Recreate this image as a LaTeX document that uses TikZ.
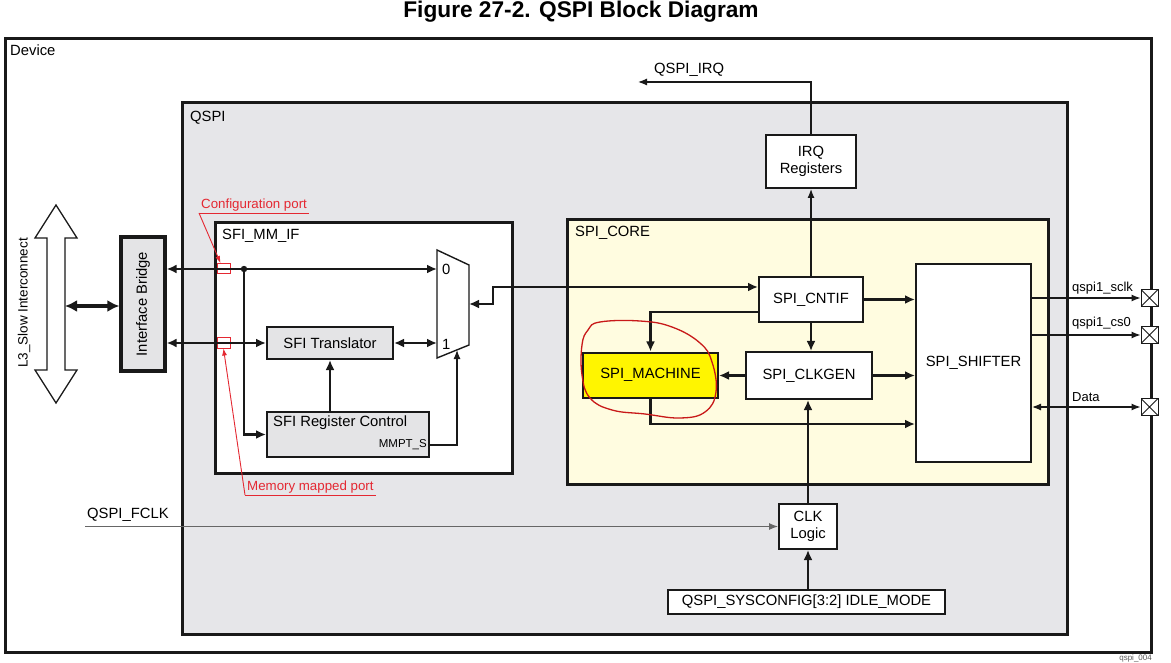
\documentclass[tikz,border=0pt]{standalone}
\usepackage{fontspec}
\setmainfont{Liberation Sans}
\usetikzlibrary{arrows.meta,calc}
\definecolor{ink}{RGB}{25,25,25}
\definecolor{qgray}{RGB}{230,230,233}
\definecolor{boxgray}{RGB}{228,228,230}
\definecolor{coreyellow}{RGB}{255,252,224}
\definecolor{hlyellow}{RGB}{255,245,0}
\definecolor{annred}{RGB}{228,40,50}
\definecolor{loopred}{RGB}{200,25,25}
\begin{document}
\begin{tikzpicture}[x=1pt,y=-1pt,
  font=\fontsize{14.8}{17}\selectfont,
  container/.style={draw=ink, line width=3pt, inner sep=0pt},
  blk/.style={draw=ink, line width=2pt, fill=white, align=center, inner sep=0pt},
  gblk/.style={blk, fill=boxgray},
  lbl/.style={anchor=west, inner sep=0pt},
  conn/.style={draw=ink, line width=2.1pt, -{Latex[length=10pt,width=9pt]}},
  conn2/.style={draw=ink, line width=2.1pt, {Latex[length=10pt,width=9pt]}-{Latex[length=10pt,width=9pt]}},
  thinconn/.style={draw=ink, line width=1.2pt, -{Latex[length=9pt,width=7pt]}},
  thinconn2/.style={draw=ink, line width=1.2pt, {Latex[length=9pt,width=7pt]}-{Latex[length=9pt,width=7pt]}},
  pinbox/.style={draw=ink, line width=1pt, fill=white, minimum size=17pt, inner sep=0pt,
    path picture={\draw[ink, line width=0.8pt] (path picture bounding box.north west) -- (path picture bounding box.south east)
      (path picture bounding box.north east) -- (path picture bounding box.south west);}},
  portbox/.style={draw=annred, line width=1pt, minimum width=13pt, minimum height=10pt, inner sep=0pt},
  anntext/.style={text=annred, font=\fontsize{13.3}{15}\selectfont, inner xsep=2pt, inner ysep=2pt, anchor=south west},
  ann/.style={draw=annred, line width=0.9pt},
  annarrow/.style={ann, -{Latex[length=7pt,width=5pt]}}
]
\useasboundingbox (0,0) rectangle (1171,663);

% title
\node[font=\bfseries\fontsize{22.7}{25}\selectfont] (title) at (581,12) {Figure 27-2. QSPI Block Diagram};

% containers
\node[container, fill=white, minimum width=1146pt, minimum height=613pt] (device) at (578,345.5) {};
\node[lbl] (devlbl) at (10,50) {Device};
\node[container, fill=qgray, minimum width=885pt, minimum height=531pt] (qspi) at (624.5,368.5) {};
\node[lbl] (qspilbl) at (190,118) {QSPI};
\node[container, fill=coreyellow, minimum width=481pt, minimum height=264pt] (core) at (807.5,352) {};
\node[lbl] (corelbl) at (575,233) {SPI\_CORE};
\node[container, fill=white, minimum width=297pt, minimum height=250pt] (sfi) at (363.5,348) {};
\node[lbl] (sfilbl) at (222,236) {SFI\_MM\_IF};

% L3 interconnect hollow double arrow
\draw[ink, line width=1.3pt, fill=white] (56,205) -- (77,238) -- (65,238) -- (65,370) -- (77,370)
  -- (56,403) -- (35,370) -- (47,370) -- (47,238) -- (35,238) -- cycle;
\node[rotate=90, font=\fontsize{13.5}{15}\selectfont] (l3lbl) at (24,303) {L3\_Slow Interconnect};
\coordinate (l3) at (65,306);

% interface bridge
\node[gblk, line width=3.2pt, minimum width=44pt, minimum height=134pt] (bridge) at (143,304) {};
\node[rotate=90] (bridgelbl) at (143,304) {Interface Bridge};

% SFI blocks
\node[gblk, minimum width=126pt, minimum height=32pt] (trans) at (330,343) {SFI Translator};
\node[gblk, minimum width=162pt, minimum height=45pt] (regctl) at (348,434.5) {};
\node[lbl] (regctllbl) at (273,423) {SFI Register Control};
\node[anchor=east, inner sep=0pt, font=\fontsize{11.5}{13}\selectfont] (mmpt) at (427,445) {MMPT\_S};

% mux
\draw[ink, line width=1.4pt, fill=white] (437,250) -- (469,265) -- (469,345) -- (437,358) -- cycle;
\coordinate (mux0) at (437,269);
\coordinate (mux1) at (437,343);
\coordinate (muxout) at (469,304);
\coordinate (muxsel) at (457,350);
\node[lbl] (m0) at (442,269) {0};
\node[lbl] (m1) at (442,344) {1};

% ports
\node[portbox] (cfgport) at (223.5,268.5) {};
\node[portbox] (memport) at (223.5,343) {};
\coordinate (dot) at (244,269);

% SPI core blocks
\node[blk, minimum width=90pt, minimum height=53pt] (irq) at (811,161.5) {IRQ\\Registers};
\node[blk, minimum width=104pt, minimum height=45pt] (cntif) at (811,299.5) {SPI\_CNTIF};
\node[blk, minimum width=126pt, minimum height=47pt] (clkgen) at (809,375.5) {SPI\_CLKGEN};
\node[blk, fill=hlyellow, minimum width=135pt, minimum height=45pt] (machine) at (650.5,375) {SPI\_MACHINE};
\node[blk, minimum width=115pt, minimum height=198pt] (shifter) at (973.5,363) {SPI\_SHIFTER};
\node[blk, minimum width=58pt, minimum height=45pt] (clklogic) at (808,526.5) {CLK\\Logic};
\node[blk, minimum width=277pt, minimum height=24pt] (syscfg) at (806.5,602) {QSPI\_SYSCONFIG[3:2] IDLE\_MODE};

% pins
\node[pinbox] (pin1) at (1149.5,298) {};
\node[pinbox] (pin2) at (1149.5,335) {};
\node[pinbox] (pin3) at (1149.5,407) {};

% connectors left
\draw[draw=ink, line width=3.2pt, {Latex[length=12pt,width=12pt]}-{Latex[length=12pt,width=12pt]}] (l3) -- (bridge.west |- l3);
\draw[conn2] (bridge.east |- dot) -- (mux0);
\fill[ink] (dot) circle (3.2pt);
\draw[conn] (dot) |- (regctl.west);
\draw[conn2] (bridge.east |- trans.west) -- (trans.west);
\draw[conn2] (trans.east) -- (mux1);
\draw[conn] (trans.south |- regctl.north) -- (trans.south);
\draw[thinconn] (regctl.east |- mmpt.east) -| (muxsel);
\draw[conn2] (muxout) -- ++(24,0) |- ([yshift=12.5pt]cntif.west);

% connectors core
\draw[thinconn] (cntif.north) -- (irq.south);
\coordinate (irqout) at (638,82);
\draw[thinconn] (irq.north) |- (irqout);
\node[lbl] (irqlbl) at (654,70) {QSPI\_IRQ};
\draw[conn] (cntif.east) -- (shifter.west |- cntif.east);
\draw[conn] ([yshift=-12.5pt]cntif.west) -| (machine.north);
\draw[conn] (cntif.south) -- (cntif.south |- clkgen.north);
\draw[conn] (clkgen.west) -- (machine.east |- clkgen.west);
\draw[conn] (clkgen.east) -- (shifter.west |- clkgen.east);
\draw[conn] (machine.south) |- ([yshift=-61pt]shifter.west);
\draw[conn] (clklogic.north) -- (clklogic.north |- clkgen.south);
\draw[conn] (clklogic.south |- syscfg.north) -- (clklogic.south);

% clock input
\coordinate (fclk) at (85,526.5);
\draw[line width=1.1pt, draw=gray!80!black, -{Latex[length=9pt,width=7pt]}] (fclk) -- (clklogic.west);
\node[lbl] (fclklbl) at (87,515) {QSPI\_FCLK};

% outputs
\draw[thinconn] (shifter.east |- pin1) -- (pin1.west);
\draw[thinconn] (shifter.east |- pin2) -- (pin2.west);
\draw[thinconn2] (shifter.east |- pin3) -- (pin3.west);
\node[lbl, font=\fontsize{13}{15}\selectfont] (sclklbl) at (1072,288) {qspi1\_sclk};
\node[lbl, font=\fontsize{13}{15}\selectfont] (cslbl) at (1072,323) {qspi1\_cs0};
\node[lbl, font=\fontsize{13}{15}\selectfont] (datalbl) at (1072,397) {Data};

% annotations
\node[anntext] (cfglbl) at (199,213) {Configuration port};
\draw[ann] (cfglbl.south west) -- (cfglbl.south east);
\draw[annarrow] (cfglbl.south west) -- ([xshift=-3pt]cfgport.north);
\node[anntext] (memlbl) at (245,495) {Memory mapped port};
\draw[ann] (memlbl.south west) -- (memlbl.south east);
\draw[annarrow] (memlbl.south west) -- (memport.south);

% hand-drawn highlight loop
\draw[loopred, line width=1.3pt] plot[smooth cycle, tension=0.7] coordinates
  {(600,322) (640,321) (672,327) (700,343) (712,362) (716,392) (705,412) (680,418) (645,414) (612,410) (590,398) (582,375) (582,345) (588,330)};

\node[anchor=east, inner sep=0pt, font=\fontsize{8}{9}\selectfont, text=gray!70!black] (figid) at (1152,658) {qspi\_004};
\end{tikzpicture}
\end{document}
